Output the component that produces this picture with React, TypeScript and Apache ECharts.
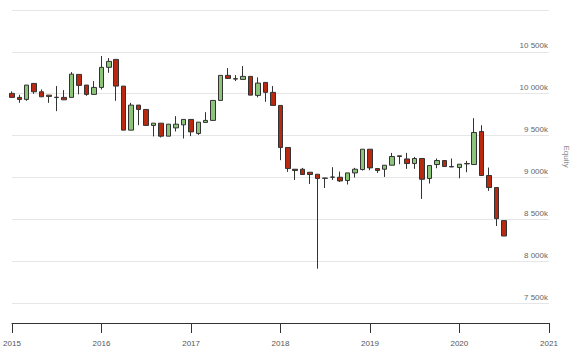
import React, { useEffect, useRef } from "react";
import * as echarts from "echarts";

const months = [
  "2015-01-01","2015-02-01","2015-03-01","2015-04-01","2015-05-01","2015-06-01","2015-07-01","2015-08-01","2015-09-01","2015-10-01","2015-11-01","2015-12-01",
  "2016-01-01","2016-02-01","2016-03-01","2016-04-01","2016-05-01","2016-06-01","2016-07-01","2016-08-01","2016-09-01","2016-10-01","2016-11-01","2016-12-01",
  "2017-01-01","2017-02-01","2017-03-01","2017-04-01","2017-05-01","2017-06-01","2017-07-01","2017-08-01","2017-09-01","2017-10-01","2017-11-01","2017-12-01",
  "2018-01-01","2018-02-01","2018-03-01","2018-04-01","2018-05-01","2018-06-01","2018-07-01","2018-08-01","2018-09-01","2018-10-01","2018-11-01","2018-12-01",
  "2019-01-01","2019-02-01","2019-03-01","2019-04-01","2019-05-01","2019-06-01","2019-07-01","2019-08-01","2019-09-01","2019-10-01","2019-11-01","2019-12-01",
  "2020-01-01","2020-02-01","2020-03-01","2020-04-01","2020-05-01","2020-06-01","2020-07-01",
];

// values in thousands
const opens = [
  10004, 9956, 9932, 10123, 10023, 9983, 9954, 9956, 9956, 10231, 10103, 9992,
  10075, 10315, 10410, 10091, 9565, 9864, 9812, 9621, 9648, 9493, 9592, 9628,
  9693, 9525, 9657, 9681, 9920, 10219, 10180, 10171, 10207, 9980, 10135, 10016,
  9860, 9358, 9098, 9098, 9062, 9038, 8992, 9002, 9002, 8963, 9054, 9094,
  9337, 9106, 9098, 9146, 9258, 9221, 9166, 9226, 8987, 9154, 9202, 9130,
  9118, 9162, 9154, 9549, 9023, 8879, 8484,
];
const closes = [
  9956, 9932, 10103, 10023, 9963, 9968, 9958, 9927, 10234, 10099, 9992, 10075,
  10315, 10386, 10091, 9565, 9864, 9812, 9621, 9648, 9493, 9636, 9636, 9693,
  9544, 9660, 9681, 9920, 10219, 10183, 10175, 10207, 9983, 10127, 10016, 9860,
  9358, 9106, 9083, 9035, 9035, 8987, 8990, 9005, 8958, 9054, 9098, 9337,
  9114, 9083, 9146, 9250, 9250, 9166, 9226, 8978, 9142, 9202, 9130, 9125,
  9158, 9166, 9537, 9023, 8879, 8508, 8300,
];
const lows = [
  9956, 9891, 9915, 9999, 9963, 9891, 9792, 9927, 9956, 9992, 9975, 9992,
  10051, 10250, 9915, 9565, 9565, 9624, 9621, 9490, 9477, 9493, 9549, 9465,
  9493, 9508, 9657, 9681, 9920, 10183, 10151, 10171, 9983, 9956, 9903, 9860,
  9206, 9066, 8970, 9035, 8922, 7910, 8874, 8970, 8946, 8915, 8999, 9083,
  9086, 9054, 9006, 9146, 9158, 9102, 9102, 8743, 8927, 9110, 9130, 9125,
  8990, 9062, 9154, 9023, 8839, 8420, 8300,
];
const highs = [
  10027, 9987, 10103, 10123, 10051, 9983, 10091, 10043, 10258, 10231, 10103, 10151,
  10450, 10426, 10410, 10091, 9891, 9864, 9812, 9648, 9648, 9636, 9732, 9693,
  9693, 9660, 9780, 9920, 10219, 10306, 10222, 10330, 10207, 10195, 10135, 10091,
  9860, 9358, 9098, 9114, 9062, 9038, 8995, 9122, 9070, 9054, 9114, 9337,
  9337, 9106, 9146, 9293, 9258, 9293, 9245, 9226, 9142, 9226, 9202, 9226,
  9158, 9197, 9708, 9624, 9118, 8879, 8484,
];

const yMin = 7500;
const yMax = 11000;
const yStep = 500;
const xMin = "2015-01-01";
const xMax = "2021-01-01";
const yAxisTitle = "Equity";

const FONT = "'Liberation Sans', Arial, Helvetica, sans-serif";

function fmtK(v: number): string {
  const th = Math.floor(v / 1000);
  const rest = v % 1000;
  return th > 0 ? `${th} ${String(rest).padStart(3, "0")}k` : `${rest}k`;
}

export default function App() {
  const ref = useRef<HTMLDivElement>(null);
  useEffect(() => {
    if (!ref.current) return;
    const chart = echarts.init(ref.current, undefined, { renderer: "svg" });
    const data = months.map((m, i) => [m, opens[i], closes[i], lows[i], highs[i]]);
    chart.setOption({
      animation: false,
      backgroundColor: "#ffffff",
      grid: { left: 12, right: 31, top: 10, bottom: 57, containLabel: false },
      xAxis: {
        type: "time",
        min: xMin,
        max: xMax,
        offset: 20,
        splitNumber: 6,
        minInterval: 365 * 24 * 3600 * 1000,
        axisLine: { show: true, lineStyle: { color: "#333333", width: 1 } },
        axisTick: { show: true, length: 10, lineStyle: { color: "#333333" } },
        axisLabel: {
          formatter: "{yyyy}",
          color: "#555555",
          fontSize: 8,
          fontFamily: FONT,
          margin: 16,
          hideOverlap: false,
          showMinLabel: true,
          showMaxLabel: true,
        },
        splitLine: { show: false },
      },
      yAxis: {
        type: "value",
        position: "right",
        min: yMin,
        max: yMax,
        interval: yStep,
        scale: true,
        name: yAxisTitle,
        nameLocation: "middle",
        nameRotate: -90,
        nameGap: 13,
        nameTextStyle: { color: "#888888", fontSize: 8, fontFamily: FONT },
        axisLine: { show: false },
        axisTick: { show: false },
        axisLabel: {
          inside: true,
          showMaxLabel: false,
          margin: 1,
          color: "#666666",
          fontSize: 8,
          fontFamily: FONT,
          verticalAlign: "bottom",
          padding: [0, 0, 2, 0],
          formatter: (v: number) => fmtK(v),
        },
        splitLine: { show: true, lineStyle: { color: "#e6e6e6", width: 1 } },
      },
      series: [
        {
          type: "candlestick",
          barWidth: 5,
          encode: { x: 0, y: [1, 2, 3, 4] },
          itemStyle: {
            color: "#8cc47a",
            color0: "#b8290f",
            borderColor: "#333333",
            borderColor0: "#333333",
            borderWidth: 1,
          },
          data,
        },
      ],
    });
    return () => chart.dispose();
  }, []);
  return (
    <div
      ref={ref}
      style={{ position: "fixed", left: 0, top: 0, width: 580, height: 360 }}
    />
  );
}
